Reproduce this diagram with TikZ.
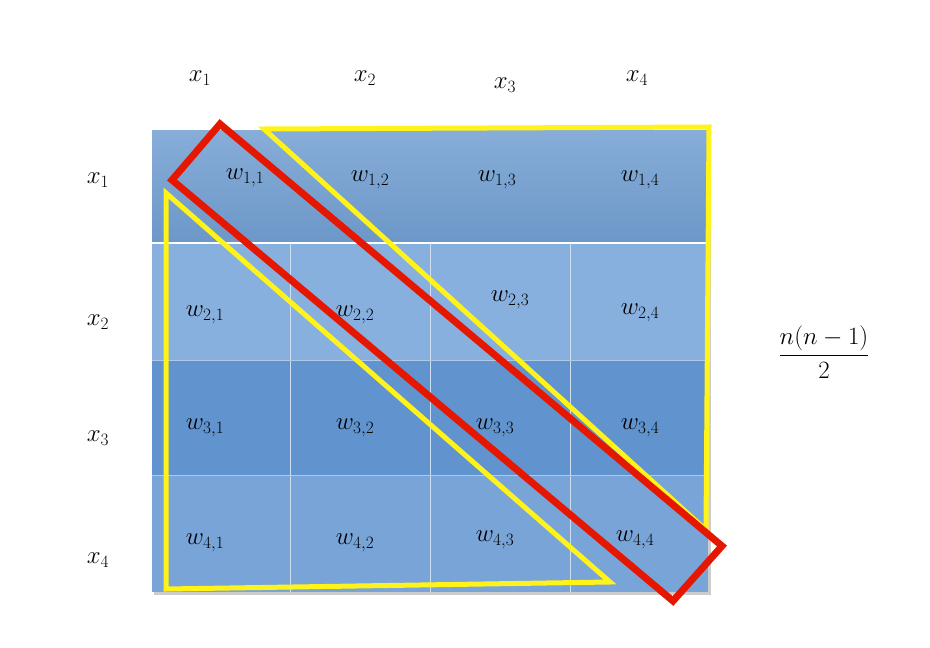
\documentclass[tikz,border=0pt]{standalone}
\begin{document}
\begin{tikzpicture}[x=1pt,y=-1pt,
 lab/.style={font=\fontsize{26}{30}\selectfont},
 cell/.style={font=\fontsize{26}{30}\selectfont}]
\useasboundingbox (0,0) rectangle (930,648);
\definecolor{r1}{HTML}{729FD2}\definecolor{r2}{HTML}{88B0DE}
\definecolor{r3}{HTML}{6194CF}\definecolor{r4}{HTML}{79A4D8}
\fill[gray!40] (154,132) rectangle (711,595);
\shade[top color=r1!85!white,bottom color=r1!95!black] (152,130) rectangle (708,243);
\fill[r2] (152,243) rectangle (708,360);
\fill[r3] (152,360) rectangle (708,475);
\fill[r4] (152,475) rectangle (708,592);
\draw[white,line width=2pt] (152,243) -- (708,243);
\foreach \x in {290,430,570}{\draw[white!60!r2,line width=0.5pt] (\x,243) -- (\x,592);}
\draw[white!50!r3,line width=0.5pt] (152,475) -- (708,475);
\draw[white!50!r3,line width=0.5pt] (152,360) -- (708,360);
\node[lab] (c1) at (200,78) {$x_1$};
\node[lab] (c2) at (365,78) {$x_2$};
\node[lab] (c3) at (505,85) {$x_3$};
\node[lab] (c4) at (637,78) {$x_4$};
\node[lab] (r1) at (98,180) {$x_1$};
\node[lab] (r2) at (98,322) {$x_2$};
\node[lab] (r3) at (98,438) {$x_3$};
\node[lab] (r4) at (98,560) {$x_4$};
\node[lab] (f) at (824,352) {$\displaystyle\frac{n(n-1)}{2}$};
\foreach \i/\j/\x/\y in {1/1/245/178,1/2/370/180,1/3/497/180,1/4/640/180,
 2/1/205/315,2/2/355/315,2/3/510/300,2/4/640/313,
 3/1/205/428,3/2/355/428,3/3/495/428,3/4/640/428,
 4/1/205/543,4/2/355/543,4/3/495/540,4/4/635/540}
 \node[cell] (w\i\j) at (\x,\y) {$w_{\i,\j}$};
\draw[yellow!90!white,line width=5pt,line join=miter] (264,129) -- (709,127) -- (706,530) -- cycle;
\draw[yellow!90!white,line width=5pt,line join=miter] (166,193) -- (166,589) -- (610,582) -- cycle;
\draw[red!80!orange!90!black,line width=7pt,line join=miter] (220,124) -- (172,180) -- (673,601) -- (722,546) -- cycle;
\end{tikzpicture}
\end{document}
